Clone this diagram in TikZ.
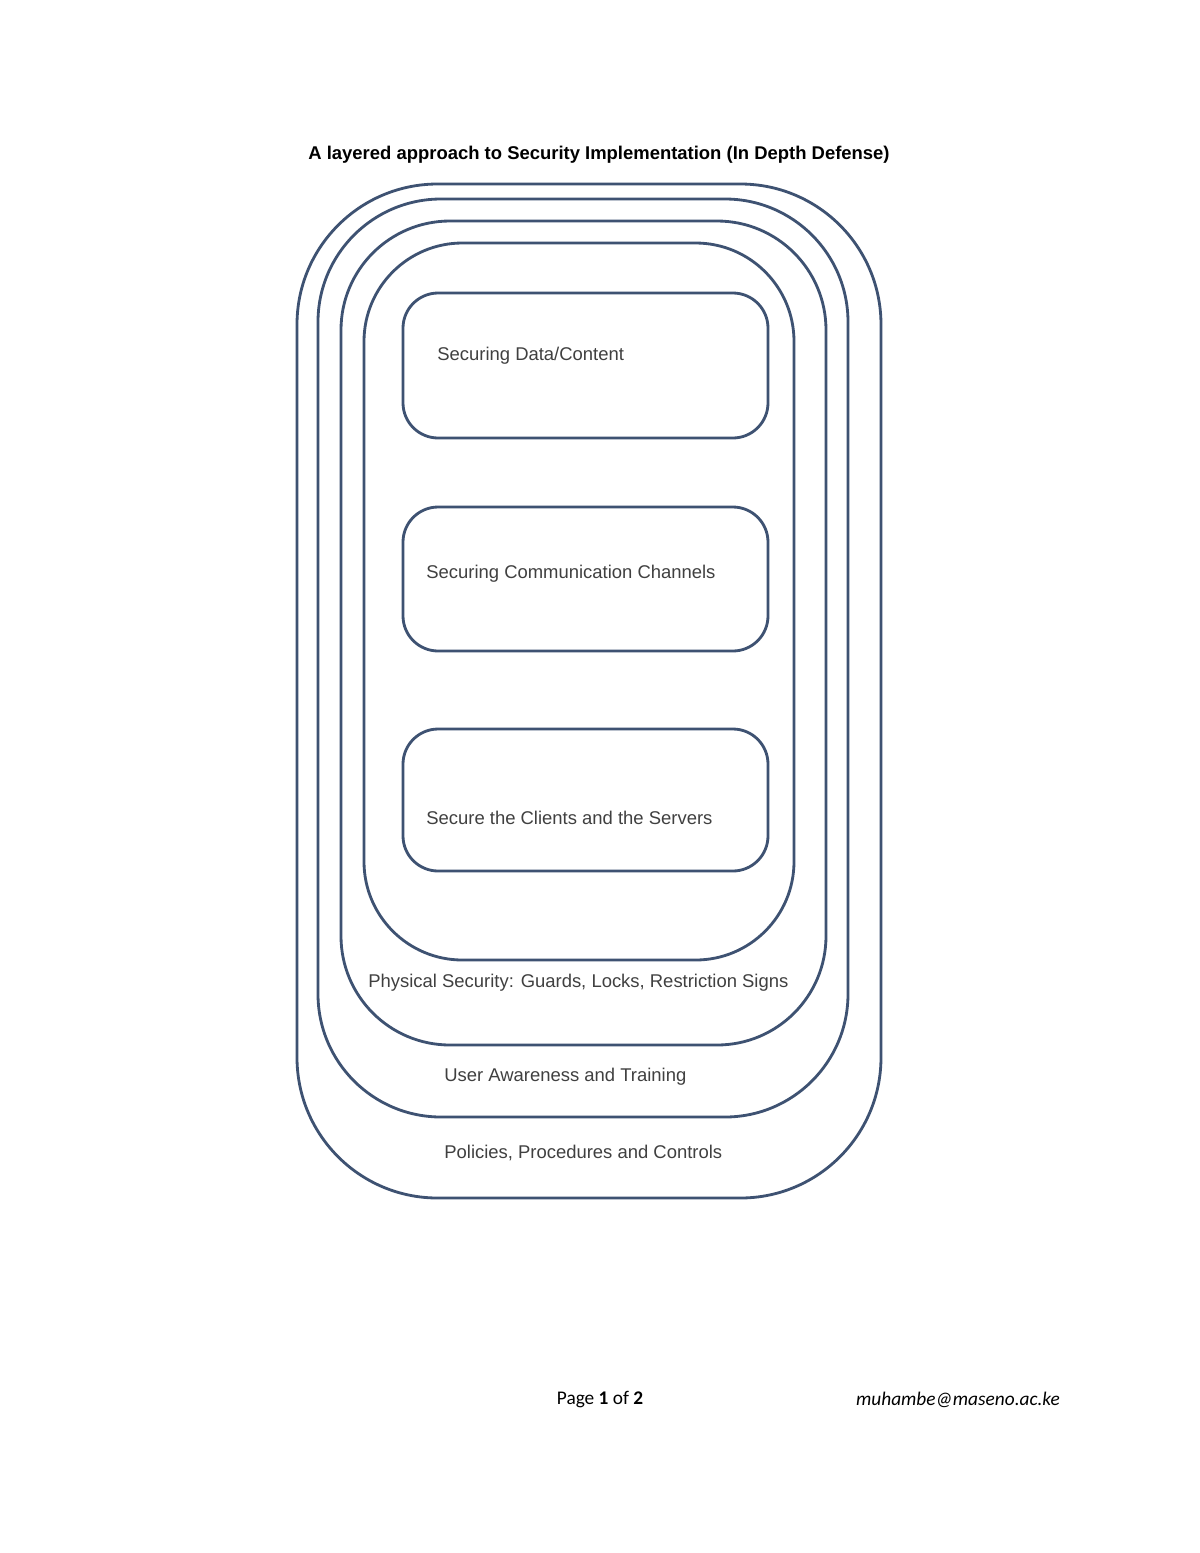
\documentclass[tikz,border=0pt]{standalone}
\usepackage{fontspec}
\setmainfont{Liberation Sans}
\newfontfamily\carlitofont{Carlito}
\definecolor{edge}{HTML}{3E5272}
\definecolor{txt}{HTML}{404040}
\begin{document}
\begin{tikzpicture}[x=0.02cm,y=-0.02cm,
  ring/.style={draw=edge,line width=1.6pt},
  lbl/.style={anchor=west,inner sep=0,text=txt,font=\fontsize{10.5}{12}\selectfont}]
\useasboundingbox[fill=white] (0,0) rectangle (1200,1553);
\node[font=\bfseries\fontsize{10.5}{12}\selectfont] (title) at (599,155) {A layered approach to Security Implementation (In Depth Defense)};
\draw[ring,rounded corners=80] (297,184) rectangle (881,1198);
\draw[ring,rounded corners=70] (318,199) rectangle (848,1117);
\draw[ring,rounded corners=62] (341,221) rectangle (826,1045);
\draw[ring,rounded corners=56] (364,243) rectangle (794,960);
\draw[ring,rounded corners=20] (403,293) rectangle (768,438);
\draw[ring,rounded corners=20] (403,507) rectangle (768,651);
\draw[ring,rounded corners=20] (403,729) rectangle (768,871);
\node[lbl] (a) at (437,356) {Securing Data/Content};
\node[lbl] (b) at (426,574) {Securing Communication Channels};
\node[lbl] (c) at (426,818) {Secure the Clients and the Servers};
\node[lbl] (d) at (368,983) {Physical Security: Guards, Locks, Restriction Signs};
\node[lbl] (e) at (444,1077) {User Awareness and Training};
\node[lbl] (f) at (444,1153) {Policies, Procedures and Controls};
\node[font=\carlitofont\fontsize{11}{13}\selectfont] (pg) at (600,1400) {Page \textbf{1} of \textbf{2}};
\node[font=\carlitofont\itshape\fontsize{11}{13}\selectfont] (em) at (958,1400) {muhambe@maseno.ac.ke};
\end{tikzpicture}
\end{document}
